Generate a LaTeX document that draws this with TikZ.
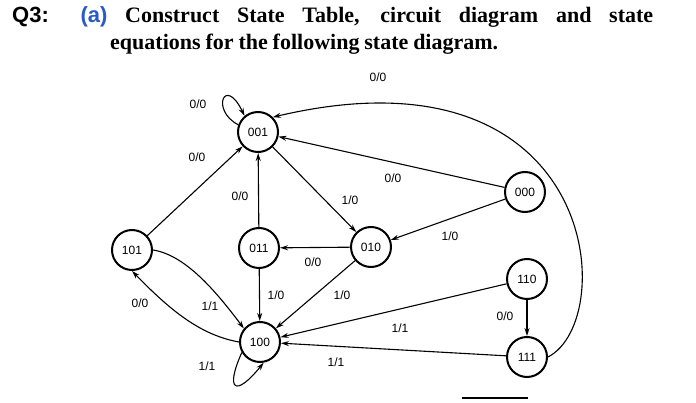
\documentclass[tikz,border=0pt]{standalone}
\usepackage{fontspec}
\setmainfont{Liberation Serif}
\setsansfont{Liberation Sans}
\usetikzlibrary{arrows.meta}
\begin{document}
\begin{tikzpicture}[x=1pt,y=-1pt,
  st/.style={circle,draw,line width=2pt,minimum size=40pt,inner sep=0pt,font=\sffamily\fontsize{12}{12}\selectfont},
  ar/.style={line width=1.1pt,-{Stealth[length=8pt,width=5pt]}},
  lb/.style={font=\sffamily\fontsize{12}{12}\selectfont}]
\useasboundingbox (0,0) rectangle (696,403);
\node[anchor=west,inner sep=0pt] (t1) at (12,17) {\fontsize{22}{24}\selectfont\bfseries\makebox[641pt][s]{{\sffamily Q3:} {\sffamily\color[RGB]{40,90,200}(a)} Construct State Table, circuit diagram and state}};
\node[anchor=west,inner sep=0pt] (t2) at (110,44) {\fontsize{22}{24}\selectfont\bfseries\makebox[388pt][s]{equations for the following state diagram.}};
\node[st] (s001) at (258,132) {001};
\node[st] (s000) at (525,192) {000};
\node[st] (s101) at (132,250) {101};
\node[st] (s011) at (259,248) {011};
\node[st] (s010) at (371,247) {010};
\node[st] (s110) at (527,279) {110};
\node[st] (s111) at (527,357) {111};
\node[st] (s100) at (260,342) {100};
\draw[ar] (s111.east) .. controls (620,320) and (600,40) .. (s001.north east);
\draw[ar] (s001.160) .. controls (210,110) and (225,75) .. (s001.130);
\draw[ar] (s101) -- (s001);
\draw[ar] (s000) -- (s001);
\draw[ar] (s011) -- (s001);
\draw[ar] (s001) -- (s010);
\draw[ar] (s000) -- (s010);
\draw[ar] (s010) -- (s011);
\draw[ar] (s011) -- (s100);
\draw[ar] (s010) -- (s100);
\draw[ar] (s101.east) .. controls (185,255) and (215,290) .. (s100.140);
\draw[ar] (s100.west) .. controls (200,335) and (170,310) .. (s101.south);
\draw[ar] (s110) -- (s111);
\draw[ar] (s110) -- (s100);
\draw[ar] (s111) -- (s100);
\draw[ar] (s100.210) .. controls (225,390) and (235,398) .. (s100.280);
\node[lb] (l1) at (378,77) {0/0};
\node[lb] (l2) at (198,104) {0/0};
\node[lb] (l3) at (197,157) {0/0};
\node[lb] (l4) at (393,178) {0/0};
\node[lb] (l5) at (240,196) {0/0};
\node[lb] (l6) at (350,200) {1/0};
\node[lb] (l7) at (450,236) {1/0};
\node[lb] (l8) at (313,262) {0/0};
\node[lb] (l9) at (276,295) {1/0};
\node[lb] (l10) at (342,295) {1/0};
\node[lb] (l11) at (210,306) {1/1};
\node[lb] (l12) at (140,303) {0/0};
\node[lb] (l13) at (505,316) {0/0};
\node[lb] (l14) at (400,328) {1/1};
\node[lb] (l15) at (336,362) {1/1};
\node[lb] (l16) at (207,366) {1/1};
\coordinate (u1) at (462,398); \coordinate (u2) at (528,398);
\draw[line width=1.5pt] (u1) -- (u2);
\end{tikzpicture}
\end{document}
